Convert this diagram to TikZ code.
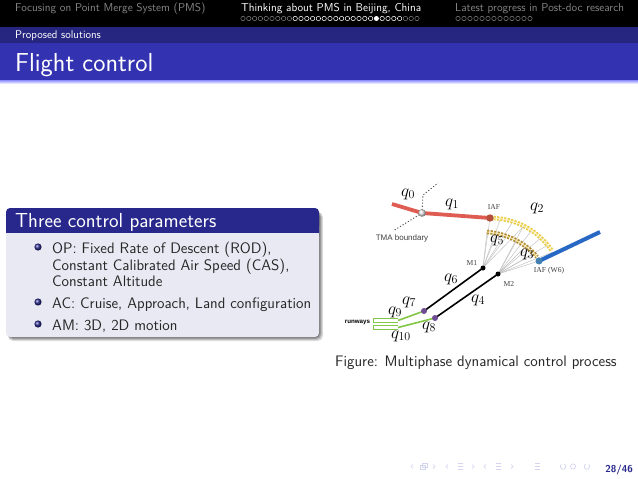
\documentclass[tikz,border=0pt]{standalone}
\usepackage{fontspec}
\usepackage{amsmath}
\newfontfamily\figserif{Liberation Serif}
\newfontfamily\figsans{Liberation Sans}
\definecolor{bandblue}{RGB}{38,38,128}
\definecolor{titleblue}{RGB}{51,51,178}
\definecolor{blockbody}{RGB}{233,233,243}
\definecolor{blockhead}{RGB}{40,40,140}
\definecolor{qred}{RGB}{222,92,82}
\definecolor{qblue}{RGB}{38,104,196}
\definecolor{qiaf}{RGB}{182,78,60}
\definecolor{qwsix}{RGB}{66,128,178}
\definecolor{qgreen}{RGB}{130,200,70}
\definecolor{qyel}{RGB}{234,205,70}
\definecolor{qdark}{RGB}{180,140,45}
\definecolor{qpurp}{RGB}{112,76,150}
\definecolor{navsym}{RGB}{212,212,240}
\tikzset{
 navtext/.style={anchor=base west,inner sep=0pt,font=\sffamily\fontsize{11.45}{13}\selectfont},
 itemtext/.style={anchor=base west,inner sep=0pt,text=black!85,font=\sffamily\fontsize{15.2}{18}\selectfont},
 smallserif/.style={inner sep=0pt,text=black!75,font=\figserif\fontsize{7.6}{9}\selectfont},
 qlab/.style={inner sep=0pt,font=\fontsize{17}{19}\selectfont},
 fan/.style={draw=black!25,line width=0.45pt},
 dotnav/.style={draw=#1,line width=0.5pt,fill=none},
}
\begin{document}
\begin{tikzpicture}[x=1pt,y=-1pt]
\useasboundingbox (0,0) rectangle (638,479);
\fill[white] (0,0) rectangle (638,479);
% header
\fill[black] (0,0) rectangle (638,27);
\fill[bandblue] (0,27) rectangle (638,43);
\fill[titleblue] (0,43) rectangle (638,80);
\shade[top color=blue!45!white,bottom color=white] (0,80) rectangle (638,84);
\node[navtext,text=white!52!black] (nava) at (15,11) {Focusing on Point Merge System (PMS)};
\node[navtext,text=white] (navb) at (241,11) {Thinking about PMS in Beijing, China};
\node[navtext,text=white!52!black] (navc) at (455,11) {Latest progress in Post-doc research};
\foreach \i in {0,...,8} \draw[dotnav=white!50!black] ({243+\i*5.8},18.5) circle (2.2);
\foreach \i in {9,...,22} \draw[dotnav=white] ({243+\i*5.8},18.5) circle (2.2);
\fill[white] ({243+23*5.8},18.5) circle (2.5);
\foreach \i in {24,...,27} \draw[dotnav=white] ({243+\i*5.8},18.5) circle (2.2);
\foreach \i in {28,...,30} \draw[dotnav=white!50!black] ({243+\i*5.8},18.5) circle (2.2);
\foreach \i in {0,...,12} \draw[dotnav=white!50!black] ({458+\i*6},18.5) circle (2.2);
\node[anchor=base west,inner sep=0pt,text=white,font=\sffamily\fontsize{11.2}{13}\selectfont] (sec) at (15,38) {Proposed solutions};
\node[anchor=base west,inner sep=0pt,text=white,font=\sffamily\fontsize{26}{30}\selectfont] (title) at (15,71) {Flight control};
% block
\foreach \o/\op in {4/.12,3/.14,2/.18,1/.22}
  \fill[black,opacity=\op,rounded corners=5pt] (8,212) rectangle ({319+\o},{337+\o});
\fill[blockbody,rounded corners=4pt] (6,222) rectangle (319,337);
\fill[blockhead,rounded corners=4pt] (6,208) rectangle (319,240);
\fill[blockbody] (6,233) rectangle (319,242);
\node[anchor=base west,inner sep=0pt,text=white,font=\sffamily\fontsize{20.3}{24}\selectfont] (blockt) at (15,227) {Three control parameters};
\foreach \y in {247,302,324}
  \shade[ball color=blockhead] (38,\y) circle (3.6);
\node[itemtext] (i1) at (52,253) {OP: Fixed Rate of Descent (ROD),};
\node[itemtext] (i2) at (52,270) {Constant Calibrated Air Speed (CAS),};
\node[itemtext] (i3) at (52,286) {Constant Altitude};
\node[itemtext] (i4) at (52,308) {AC: Cruise, Approach, Land configuration};
\node[itemtext] (i5) at (52,330) {AM: 3D, 2D motion};
% figure
\coordinate (q0s) at (392,204);
\coordinate (tma) at (422,213);
\coordinate (iaf) at (490,218);
\coordinate (w6) at (539,261);
\coordinate (wend) at (600,232);
\coordinate (m1) at (483,268);
\coordinate (m2) at (498,274);
\coordinate (p7) at (424,311);
\coordinate (p8) at (435,318);
\coordinate (r1) at (398,320.5);
\coordinate (r2) at (398,327.5);
% fan lines from M1, M2
\foreach \x/\y in {490/218,500/220,512/223,523/227,487/232,497/233,507/236} \draw[fan] (m1) -- (\x,\y);
\foreach \x/\y in {523/227,532/230,542/237,548/245,553/252,517/240,527/245,535/253,539/261} \draw[fan] (m2) -- (\x,\y);
% arcs
\draw[qyel,line width=4.4pt,dash pattern=on 2.2pt off 1.3pt] (iaf) .. controls (515,218) and (538,230) .. (552,251);
\draw[white!70!qyel,line width=0.9pt] (iaf) .. controls (515,218) and (538,230) .. (552,251);
\draw[qdark,line width=4.4pt,dash pattern=on 2.2pt off 1.3pt] (487,232) .. controls (505,233) and (526,243) .. (537,257);
\draw[white!60!qyel,line width=0.9pt] (487,232) .. controls (505,233) and (526,243) .. (537,257);
% dotted
\draw[black!70,line width=0.9pt,dash pattern=on 1.1pt off 2pt] (tma) -- (423,195) -- (438,183);
\draw[black!70,line width=0.9pt,dash pattern=on 1.1pt off 2pt] (tma) -- (393,231);
% thick lines
\draw[qred,line width=3.8pt] (q0s) -- (tma);
\draw[qred,line width=3.8pt] (tma) -- (iaf);
\draw[qblue,line width=4pt] (w6) -- (wend);
\draw[black,line width=1.6pt] (m1) -- (p7);
\draw[black,line width=1.6pt] (m2) -- (p8);
\draw[qgreen,line width=1.6pt] (p7) -- (r1);
\draw[qgreen,line width=1.6pt] (p8) -- (r2);
\draw[qgreen,line width=0.7pt] (r1) ++(0,-1.7) -- ++(-25,0) -- ++(0,3.4) -- ++(25,0);
\draw[qgreen,line width=0.7pt] (r2) ++(0,-1.7) -- ++(-25,0) -- ++(0,3.4) -- ++(25,0);
% points
\shade[ball color=black!8] (tma) circle (3.8);
\fill[qiaf] (iaf) circle (3.7);
\fill[qwsix] (w6) circle (3.5);
\fill[black] (m1) circle (2.5);
\fill[black] (m2) circle (2.5);
\fill[qpurp] (p7) circle (3);
\fill[qpurp] (p8) circle (3);
% labels
\node[qlab] (l0) at (408,194) {$q_0$};
\node[qlab] (l1) at (452,204) {$q_1$};
\node[qlab] (l2) at (537,208) {$q_2$};
\node[qlab] (l3) at (527,254) {$q_3$};
\node[qlab] (l4) at (478,300) {$q_4$};
\node[qlab] (l5) at (497,240) {$q_5$};
\node[qlab] (l6) at (451,279) {$q_6$};
\node[qlab] (l7) at (409,302) {$q_7$};
\node[qlab] (l8) at (429,327) {$q_8$};
\node[qlab] (l9) at (395,312) {$q_9$};
\node[qlab] (l10) at (401,336) {$q_{10}$};
\node[smallserif] (tiaf) at (494,207) {IAF};
\node[smallserif] (tw6) at (549,271) {IAF (W6)};
\node[smallserif] (tm1) at (472,263) {M1};
\node[smallserif] (tm2) at (509,284) {M2};
\node[inner sep=0pt,text=black!75,font=\figsans\fontsize{8}{9}\selectfont] (ttma) at (402,238) {TMA boundary};
\node[inner sep=0pt,text=black,font=\figsans\bfseries\fontsize{6.2}{7}\selectfont] (trun) at (357.5,322) {runways};
\node[anchor=base west,inner sep=0pt,text=black!85,font=\sffamily\fontsize{15.2}{18}\selectfont] (cap) at (335,366) {Figure: Multiphase dynamical control process};
% footer
\node[anchor=base east,inner sep=0pt,text=blockhead,font=\sffamily\bfseries\fontsize{10}{12}\selectfont] (page) at (633,472.5) {28/46};
\begin{scope}[navsym,line width=0.7pt]
\foreach \x in {413,448,486} \draw (\x,464.5) -- ++(-2,2) -- ++(2,2);
\foreach \x in {433,472,511} \draw (\x,464.5) -- ++(2,2) -- ++(-2,2);
\draw (420,465) rectangle ++(5,4);
\draw (422,463) rectangle ++(5,4);
\foreach \x in {458,496,535} {\draw (\x,463) -- ++(5,0); \draw (\x,466) -- ++(5,0); \draw (\x,469) -- ++(5,0);}
\draw (563,466.5) ++(-60:2.8) arc (-60:230:2.8);
\draw (573,466.5) circle (2.6);
\draw (587,466.5) ++(240:2.8) arc (240:-50:2.8);
\end{scope}
\end{tikzpicture}
\end{document}
